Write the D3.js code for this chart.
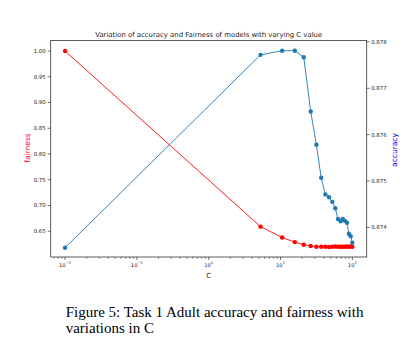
<!DOCTYPE html>
<html>
<head>
<meta charset="utf-8">
<script src="https://cdn.jsdelivr.net/npm/d3@7"></script>
<style>
  html, body { margin: 0; padding: 0; background: #fff; }
  svg { display: block; }
</style>
</head>
<body>
<script>
// ---- Data ----
const cValues = [0.01, 5.27, 10.53, 15.8, 21.06, 26.32, 31.59, 36.85, 42.11, 47.38, 52.64, 57.9, 63.17, 68.43, 73.69, 78.96, 84.22, 89.48, 94.75, 100];
const fairness = [1.0, 0.659, 0.638, 0.629, 0.624, 0.6215, 0.620, 0.620, 0.620, 0.6195, 0.620, 0.6205, 0.620, 0.620, 0.620, 0.620, 0.6205, 0.620, 0.6205, 0.620];
const accuracy = [0.87356, 0.87772, 0.87781, 0.87781, 0.87767, 0.8765, 0.87578, 0.87507, 0.87471, 0.87465, 0.87455, 0.87441, 0.87418, 0.87413, 0.87418, 0.87414, 0.8741, 0.87386, 0.87381, 0.87367];
const xTickExps = [-2, -1, 0, 1, 2];
const fairTicks = [0.65, 0.70, 0.75, 0.80, 0.85, 0.90, 0.95, 1.00];
const accTicks = [0.874, 0.875, 0.876, 0.877, 0.878];
const titleText = "Variation of accuracy and Fairness of models with varying C value";
const captionLines = ["Figure 5: Task 1 Adult accuracy and fairness with", "variations in C"];

// ---- Layout ----
const W = 412, H = 355;
const L = 50.7, R = 366.7, T = 40.5, B = 257;
const axisCol = "#333";
const txtCol = "#222";
const font = "DejaVu Sans, sans-serif";

const svg = d3.select("body").append("svg").attr("width", W).attr("height", H);
svg.append("rect").attr("width", W).attr("height", H).attr("fill", "#fff");

const x = d3.scaleLog().domain([Math.pow(10, -2.2), Math.pow(10, 2.2)]).range([L, R]);
const yL = d3.scaleLinear().domain([0.6001, 1.0204]).range([B, T]);
const yR = d3.scaleLinear().domain([0.87336, 0.87803]).range([B, T]);

// Minor ticks on x
const minor = [];
for (let e = -3; e <= 2; e++) for (let m = 2; m <= 9; m++) {
  const v = m * Math.pow(10, e);
  if (v >= x.domain()[0] && v <= x.domain()[1]) minor.push(v);
}
svg.append("g").selectAll("line").data(minor).join("line")
  .attr("x1", d => x(d)).attr("x2", d => x(d))
  .attr("y1", B).attr("y2", B + 1.8)
  .attr("stroke", axisCol).attr("stroke-width", 0.6);

// Major x ticks
const xt = svg.append("g").selectAll("g").data(xTickExps).join("g")
  .attr("transform", d => `translate(${x(Math.pow(10, d))},0)`);
xt.append("line").attr("y1", B).attr("y2", B + 3).attr("stroke", axisCol).attr("stroke-width", 0.7);
const xtt = xt.append("text").attr("y", B + 9.5).attr("text-anchor", "middle")
  .attr("font-family", font).attr("font-size", 5.2).attr("fill", txtCol);
xtt.append("tspan").text("10");
xtt.append("tspan").attr("dy", -2.3).attr("font-size", 3.7).text(d => d < 0 ? "\u2212" + Math.abs(d) : String(d));

// Left ticks
const lt = svg.append("g").selectAll("g").data(fairTicks).join("g")
  .attr("transform", d => `translate(0,${yL(d)})`);
lt.append("line").attr("x1", L - 3).attr("x2", L).attr("stroke", axisCol).attr("stroke-width", 0.7);
lt.append("text").attr("x", L - 5).attr("dy", "0.35em").attr("text-anchor", "end")
  .attr("font-family", font).attr("font-size", 5.4).attr("fill", txtCol)
  .text(d => d3.format(".2f")(d));

// Right ticks
const rt = svg.append("g").selectAll("g").data(accTicks).join("g")
  .attr("transform", d => `translate(0,${yR(d)})`);
rt.append("line").attr("x1", R).attr("x2", R + 3).attr("stroke", axisCol).attr("stroke-width", 0.7);
rt.append("text").attr("x", R + 4.5).attr("dy", "0.35em").attr("text-anchor", "start")
  .attr("font-family", font).attr("font-size", 5.4).attr("fill", txtCol)
  .text(d => d3.format(".3f")(d));

// Data
const pts = cValues.map((c, i) => ({ c, f: fairness[i], a: accuracy[i] }));

const redLine = d3.line().x(d => x(d.c)).y(d => yL(d.f));
svg.append("path").datum(pts).attr("d", redLine)
  .attr("fill", "none").attr("stroke", "#ff0000").attr("stroke-width", 0.9);
svg.append("g").selectAll("circle").data(pts).join("circle")
  .attr("cx", d => x(d.c)).attr("cy", d => yL(d.f)).attr("r", 2.2).attr("fill", "#ff0000");

const blueLine = d3.line().x(d => x(d.c)).y(d => yR(d.a));
svg.append("path").datum(pts).attr("d", blueLine)
  .attr("fill", "none").attr("stroke", "#1f77b4").attr("stroke-width", 0.9);
svg.append("g").selectAll("circle").data(pts).join("circle")
  .attr("cx", d => x(d.c)).attr("cy", d => yR(d.a)).attr("r", 2.2).attr("fill", "#1f77b4");

// Frame
svg.append("rect").attr("x", L).attr("y", T).attr("width", R - L).attr("height", B - T)
  .attr("fill", "none").attr("stroke", axisCol).attr("stroke-width", 0.8);

// Title
svg.append("text").attr("x", (L + R) / 2).attr("y", T - 3.5).attr("text-anchor", "middle")
  .attr("font-family", font).attr("font-size", 6.9).attr("fill", txtCol).text(titleText);

// Axis labels
svg.append("text").attr("x", (L + R) / 2).attr("y", 277.5).attr("text-anchor", "middle")
  .attr("font-family", font).attr("font-size", 7).attr("fill", txtCol).text("C");
svg.append("text").attr("transform", `translate(30,148) rotate(-90)`).attr("text-anchor", "middle")
  .attr("font-family", font).attr("font-size", 7.5).attr("fill", "#ff0000").text("fairness");
svg.append("text").attr("transform", `translate(397,150) rotate(-90)`).attr("text-anchor", "middle")
  .attr("font-family", font).attr("font-size", 7.5).attr("fill", "#0000ff").text("accuracy");

// Caption
svg.append("g").selectAll("text").data(captionLines).join("text")
  .attr("x", 65.7).attr("y", (d, i) => 316.5 + i * 16)
  .attr("font-family", "Liberation Serif, Times New Roman, serif").attr("font-size", 15)
  .attr("fill", "#000").text(d => d);
</script>
</body>
</html>
